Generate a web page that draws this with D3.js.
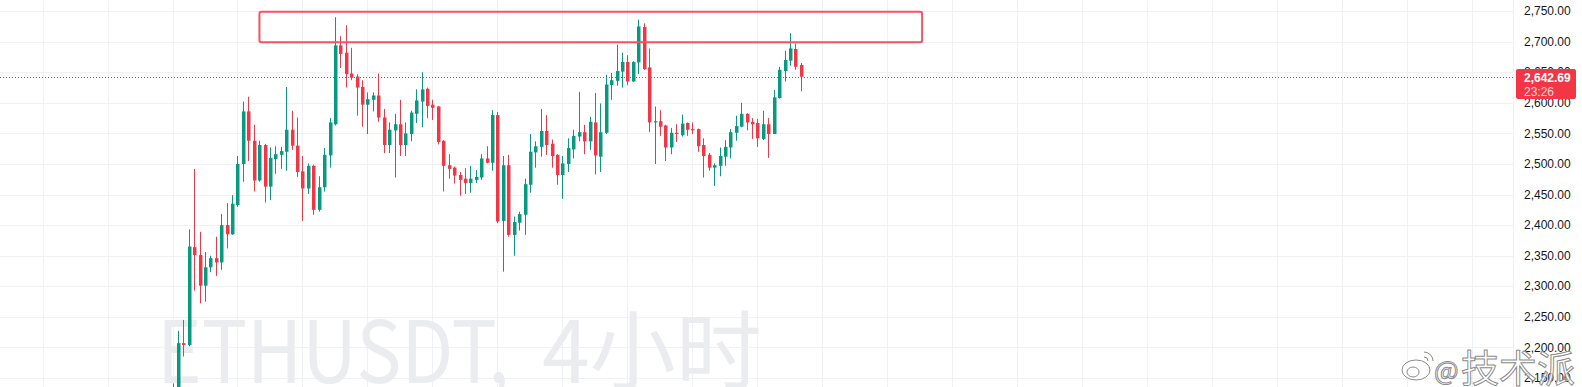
<!DOCTYPE html>
<meta charset="utf-8">
<style>
    body { margin: 0; background: #fff; }
    svg { display: block; }
    .grid line { stroke: #eff1f4; stroke-width: 1; shape-rendering: crispEdges; }
    .price-label { font: 12px "Liberation Sans", Arial, sans-serif; fill: #131722; }
    .watermark { font-family: "Noto Sans CJK SC", sans-serif; font-size: 86px; fill: #ebecef; }
</style>
<body>
<script src="https://cdn.jsdelivr.net/npm/d3@7"></script>
<script>
    // 4h candles
    var opens = [2080, 2125, 2207, 2204, 2364, 2351, 2301, 2331, 2346, 2339,
        2400, 2385, 2433, 2500, 2586, 2538, 2473, 2531, 2463, 2508,
        2515, 2520, 2556, 2530, 2488, 2460, 2497, 2425, 2462, 2514,
        2565, 2694, 2682, 2648, 2643, 2626, 2597, 2605, 2612, 2576,
        2531, 2555, 2565, 2531, 2549, 2582, 2602, 2623, 2597, 2594,
        2538, 2498, 2494, 2482, 2476, 2469, 2474, 2478, 2509, 2502,
        2580, 2407, 2498, 2384, 2404, 2417, 2466, 2519, 2528, 2554,
        2533, 2515, 2482, 2500, 2524, 2545, 2552, 2537, 2568, 2512,
        2551, 2629, 2636, 2651, 2667, 2635, 2666, 2724, 2658, 2568,
        2570, 2563, 2527, 2551, 2547, 2567, 2557, 2557, 2531, 2515,
        2494, 2497, 2512, 2527, 2551, 2561, 2582, 2569, 2567, 2541,
        2565, 2549, 2608, 2652, 2669, 2688, 2662];
    var highs = [2141, 2227, 2245, 2393, 2492, 2389, 2356, 2350, 2381, 2418,
        2436, 2449, 2513, 2602, 2610, 2564, 2538, 2533, 2527, 2529,
        2528, 2626, 2587, 2576, 2513, 2501, 2499, 2480, 2526, 2575,
        2740, 2709, 2727, 2690, 2647, 2637, 2617, 2617, 2648, 2590,
        2568, 2582, 2605, 2568, 2587, 2622, 2650, 2625, 2605, 2595,
        2539, 2516, 2496, 2487, 2493, 2497, 2490, 2516, 2529, 2588,
        2585, 2513, 2515, 2414, 2422, 2476, 2549, 2537, 2590, 2580,
        2540, 2516, 2513, 2542, 2556, 2618, 2564, 2577, 2616, 2599,
        2646, 2649, 2695, 2682, 2678, 2668, 2736, 2730, 2689, 2594,
        2588, 2564, 2559, 2565, 2581, 2568, 2568, 2558, 2542, 2518,
        2501, 2527, 2539, 2557, 2579, 2600, 2583, 2575, 2574, 2587,
        2575, 2621, 2659, 2685, 2714, 2697, 2665];
    var lows = [2070, 2110, 2185, 2202, 2293, 2272, 2275, 2323, 2317, 2327,
        2362, 2384, 2430, 2471, 2505, 2455, 2471, 2437, 2441, 2484,
        2492, 2489, 2523, 2479, 2407, 2451, 2417, 2422, 2455, 2494,
        2563, 2657, 2625, 2637, 2579, 2561, 2549, 2586, 2569, 2518,
        2518, 2478, 2513, 2513, 2537, 2567, 2560, 2575, 2572, 2532,
        2455, 2476, 2468, 2448, 2451, 2453, 2469, 2474, 2501, 2489,
        2403, 2324, 2381, 2350, 2391, 2384, 2453, 2494, 2512, 2515,
        2494, 2466, 2443, 2487, 2509, 2537, 2516, 2523, 2483, 2487,
        2549, 2605, 2628, 2625, 2629, 2634, 2647, 2654, 2552, 2500,
        2546, 2505, 2516, 2536, 2545, 2546, 2549, 2520, 2478, 2489,
        2464, 2480, 2497, 2509, 2538, 2560, 2555, 2541, 2528, 2539,
        2510, 2549, 2607, 2635, 2661, 2654, 2619];
    var closes = [2125, 2207, 2204, 2365, 2351, 2301, 2331, 2346, 2339, 2400,
        2385, 2435, 2500, 2586, 2538, 2473, 2531, 2463, 2510, 2516,
        2521, 2556, 2530, 2487, 2460, 2497, 2425, 2462, 2515, 2568,
        2694, 2680, 2647, 2641, 2625, 2597, 2606, 2612, 2576, 2531,
        2556, 2565, 2531, 2550, 2584, 2604, 2622, 2595, 2592, 2536,
        2497, 2492, 2481, 2474, 2469, 2476, 2479, 2509, 2502, 2580,
        2406, 2498, 2384, 2405, 2418, 2467, 2520, 2529, 2554, 2531,
        2513, 2482, 2501, 2526, 2546, 2552, 2537, 2569, 2514, 2552,
        2630, 2637, 2652, 2667, 2635, 2667, 2725, 2655, 2568, 2570,
        2561, 2527, 2551, 2549, 2566, 2556, 2555, 2529, 2513, 2494,
        2498, 2513, 2528, 2552, 2562, 2582, 2568, 2565, 2542, 2565,
        2549, 2609, 2654, 2670, 2689, 2659, 2642.69];

    var priceTicks = [2150, 2200, 2250, 2300, 2350, 2400, 2450, 2500,
        2550, 2600, 2650, 2700, 2750];
    var lastPrice = 2642.69,
        countdown = '23:26',
        symbolName = 'ETHUSDT,',
        intervalName = '4小时',
        weiboAt = '@',
        weiboName = '技术派';

    // resistance box drawn on the chart (bar index / price)
    var zoneFrom = 16.05, zoneTo = 138.4, zoneTop = 2749, zoneBottom = 2699;

    var width = 1582,
        height = 387,
        plotRight = 1513,
        up = '#089981',
        down = '#f23645';

    var x = d3.scaleLinear().domain([0, opens.length - 1]).range([172.5, 800.8]);
    var y = d3.scaleLinear().domain([2150, 2700]).range([378, 41.7]);

    var svg = d3.select('body').append('svg')
        .attr('width', width)
        .attr('height', height);

    svg.append('clipPath').attr('id', 'plot')
        .append('rect').attr('width', plotRight).attr('height', height);

    var plot = svg.append('g').attr('clip-path', 'url(#plot)');

    // grid
    var grid = plot.append('g').attr('class', 'grid');
    grid.selectAll('line.h')
        .data(priceTicks).enter()
        .append('line')
        .attr('x1', 0).attr('x2', plotRight)
        .attr('y1', function(d) { return Math.round(y(d)) + 0.5; })
        .attr('y2', function(d) { return Math.round(y(d)) + 0.5; });
    grid.selectAll('line.v')
        .data(d3.range(-24, 250, 12)).enter()
        .append('line')
        .attr('y1', 0).attr('y2', height)
        .attr('x1', function(d) { return Math.round(x(d)) + 0.5; })
        .attr('x2', function(d) { return Math.round(x(d)) + 0.5; });

    // symbol watermark (latin part is narrower in the original font)
    plot.append('text')
        .attr('class', 'watermark')
        .attr('x', 157)
        .attr('y', 383)
        .attr('textLength', 352)
        .attr('lengthAdjust', 'spacingAndGlyphs')
        .text(symbolName);
    plot.append('text')
        .attr('class', 'watermark')
        .attr('x', 542)
        .attr('y', 383)
        .text(intervalName);

    // candles
    var candles = plot.selectAll('g.candle')
        .data(d3.range(opens.length)).enter()
        .append('g')
        .attr('class', 'candle')
        .attr('fill', function(i) { return closes[i] >= opens[i] ? up : down; })
        .attr('stroke', function(i) { return closes[i] >= opens[i] ? up : down; });

    candles.append('line')
        .attr('stroke-width', 1)
        .attr('x1', function(i) { return Math.round(x(i)) + 0.5; })
        .attr('x2', function(i) { return Math.round(x(i)) + 0.5; })
        .attr('y1', function(i) { return y(highs[i]); })
        .attr('y2', function(i) { return y(lows[i]); });

    candles.append('rect')
        .attr('stroke', 'none')
        .attr('x', function(i) { return Math.round(x(i)) - 1; })
        .attr('width', 3.5)
        .attr('y', function(i) { return y(Math.max(opens[i], closes[i])); })
        .attr('height', function(i) {
            return Math.max(1, Math.abs(y(opens[i]) - y(closes[i])));
        });

    // last price line
    var py = Math.round(y(lastPrice)) + 0.5;
    plot.append('line')
        .attr('x1', 0).attr('x2', plotRight)
        .attr('y1', py).attr('y2', py)
        .attr('stroke', down)
        .attr('stroke-width', 1)
        .attr('stroke-dasharray', '1,2');

    // box
    plot.append('rect')
        .attr('x', x(zoneFrom))
        .attr('y', y(zoneTop))
        .attr('width', x(zoneTo) - x(zoneFrom))
        .attr('height', y(zoneBottom) - y(zoneTop))
        .attr('rx', 2)
        .attr('fill', 'none')
        .attr('stroke', '#f7525f')
        .attr('stroke-width', 2);

    // price scale
    svg.append('line')
        .attr('x1', plotRight + 0.5).attr('x2', plotRight + 0.5)
        .attr('y1', 0).attr('y2', height)
        .attr('stroke', '#eff1f4');

    svg.selectAll('text.price-label')
        .data(priceTicks).enter()
        .append('text')
        .attr('class', 'price-label')
        .attr('x', 1524)
        .attr('y', function(d) { return y(d); })
        .attr('dy', '0.35em')
        .text(function(d) { return d3.format(',.2f')(d); });

    var tag = svg.append('g');
    tag.append('rect')
        .attr('x', 1516).attr('y', py - 8.5)
        .attr('width', 60).attr('height', 30)
        .attr('rx', 2)
        .attr('fill', down);
    tag.append('text')
        .attr('x', 1524).attr('y', py)
        .attr('dy', '0.35em')
        .attr('fill', '#fff')
        .style('font', 'bold 12px "Liberation Sans", Arial, sans-serif')
        .text(d3.format(',.2f')(lastPrice));
    tag.append('text')
        .attr('x', 1524).attr('y', py + 14)
        .attr('dy', '0.35em')
        .attr('fill', '#fff')
        .attr('fill-opacity', 0.8)
        .style('font', '12px "Liberation Sans", Arial, sans-serif')
        .text(countdown);

    // weibo overlay: logo outline + handle
    var wb = svg.append('g')
        .attr('fill', '#fff')
        .attr('fill-opacity', 0.75)
        .attr('stroke', '#8c8c8c')
        .attr('stroke-width', 1);
    wb.append('ellipse')
        .attr('cx', 1416).attr('cy', 370).attr('rx', 14).attr('ry', 10);
    wb.append('ellipse')
        .attr('cx', 1413).attr('cy', 372).attr('rx', 6).attr('ry', 5);
    wb.append('path')
        .attr('fill', 'none')
        .attr('d', 'M1424,352 a9,9 0 0 1 9,9 M1424,357 a4,4 0 0 1 4,4');
    wb.append('text')
        .attr('x', 1434)
        .attr('y', 380)
        .style('font', '26px "Noto Sans CJK SC", sans-serif')
        .text(weiboAt);
    wb.append('text')
        .attr('x', 1575)
        .attr('y', 382)
        .attr('text-anchor', 'end')
        .style('font', '38px "Noto Sans CJK SC", sans-serif')
        .text(weiboName);
</script>
</body>
